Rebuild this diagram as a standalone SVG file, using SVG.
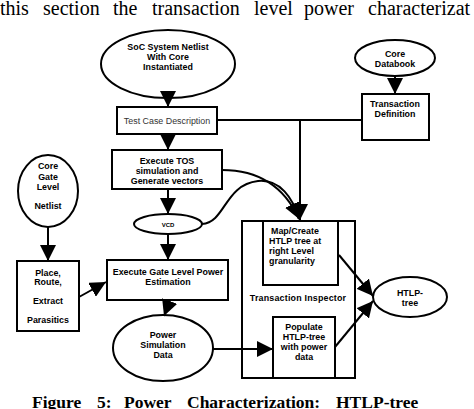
<svg xmlns="http://www.w3.org/2000/svg" width="474" height="409" viewBox="0 0 474 409">
<defs>
<marker id="ah" markerUnits="userSpaceOnUse" markerWidth="16" markerHeight="16" refX="16" refY="8" orient="auto">
<path d="M0,0 L16,8 L0,16 z" fill="#000"/>
</marker>
<style>
.n{fill:#fff;stroke:#000;stroke-width:2}
.t{font-family:"Liberation Sans",Arial,sans-serif;font-size:8.9px;font-weight:bold;text-anchor:middle;fill:#000}
.c{fill:none;stroke:#000;stroke-width:2}
.s{font-family:"Liberation Serif","Times New Roman",serif;fill:#000}
</style>
</defs>
<rect width="474" height="409" fill="#fff"/>
<text class="s" x="0" y="15" font-size="20"><tspan x="0">this</tspan><tspan x="43">section</tspan><tspan x="113">the</tspan><tspan x="152">transaction</tspan><tspan x="254">level</tspan><tspan x="304">power</tspan><tspan x="368">characterizat</tspan></text>

<g id="soc">
<ellipse class="n" cx="168" cy="64" rx="67" ry="34"/>
<text class="t" x="168" y="50">SoC System Netlist</text>
<text class="t" x="168" y="60">With Core</text>
<text class="t" x="168" y="70">Instantiated</text>
</g>
<g id="testcase">
<rect class="n" x="117" y="107" width="100" height="27"/>
<text class="t" x="167" y="124" style="font-weight:normal;fill:#333">Test Case Description</text>
</g>
<g id="tos">
<rect class="n" x="112" y="150" width="110" height="39"/>
<text class="t" x="167" y="164">Execute TOS</text>
<text class="t" x="167" y="174">simulation and</text>
<text class="t" x="167" y="184">Generate  vectors</text>
</g>
<g id="vcd">
<ellipse class="n" cx="168" cy="224" rx="34" ry="10"/>
<text class="t" x="168" y="226.5" style="font-size:6px">VCD</text>
</g>
<g id="gatepower">
<rect class="n" x="107" y="260" width="121" height="40"/>
<text class="t" x="168" y="275">Execute Gate Level Power</text>
<text class="t" x="168" y="285">Estimation</text>
</g>
<g id="powersim">
<ellipse class="n" cx="163" cy="348" rx="50" ry="33"/>
<text class="t" x="163" y="338">Power</text>
<text class="t" x="163" y="348">Simulation</text>
<text class="t" x="163" y="358">Data</text>
</g>
<g id="coregate">
<ellipse class="n" cx="48" cy="191" rx="30" ry="36"/>
<text class="t" x="48" y="169">Core</text>
<text class="t" x="48" y="180">Gate</text>
<text class="t" x="48" y="190">Level</text>
<text class="t" x="48" y="209">Netlist</text>
</g>
<g id="place">
<rect class="n" x="17" y="261" width="62" height="70"/>
<text class="t" x="48" y="276">Place,</text>
<text class="t" x="48" y="285">Route,</text>
<text class="t" x="48" y="304">Extract</text>
<text class="t" x="48" y="323">Parasitics</text>
</g>
<g id="databook">
<ellipse class="n" cx="395" cy="58" rx="40" ry="18"/>
<text class="t" x="395" y="57">Core</text>
<text class="t" x="395" y="67">Databook</text>
</g>
<g id="transdef">
<rect class="n" x="362" y="94" width="67" height="46"/>
<text class="t" x="395" y="107">Transaction</text>
<text class="t" x="395" y="117">Definition</text>
</g>
<g id="inspector">
<rect class="n" x="242" y="221" width="113" height="157"/>
<text class="t" x="298" y="301" style="letter-spacing:0.2px">Transaction  Inspector</text>
</g>
<g id="mapcreate">
<rect class="n" x="263" y="221" width="75" height="64"/>
<text class="t" x="271" y="234" style="text-anchor:start">Map/Create</text>
<text class="t" x="269" y="244" style="text-anchor:start">HTLP tree at</text>
<text class="t" x="269" y="254" style="text-anchor:start">right Level</text>
<text class="t" x="269" y="264" style="text-anchor:start">granularity</text>
</g>
<g id="populate">
<rect class="n" x="273" y="317" width="62" height="61"/>
<text class="t" x="304" y="330">Populate</text>
<text class="t" x="304" y="340">HTLP-tree</text>
<text class="t" x="304" y="350">with power</text>
<text class="t" x="304" y="360">data</text>
</g>
<g id="htlp">
<ellipse class="n" cx="410" cy="297" rx="37" ry="20"/>
<text class="t" x="410" y="296">HTLP-</text>
<text class="t" x="410" y="306">tree</text>
</g>

<g id="connectors">
<line class="c" x1="168" y1="98" x2="168" y2="107" marker-end="url(#ah)"/>
<line class="c" x1="168" y1="134" x2="168" y2="150" marker-end="url(#ah)"/>
<line class="c" x1="168" y1="189" x2="168" y2="214" marker-end="url(#ah)"/>
<line class="c" x1="168" y1="234" x2="168" y2="260" marker-end="url(#ah)"/>
<line class="c" x1="395" y1="76" x2="395" y2="94" marker-end="url(#ah)"/>
<line class="c" x1="48" y1="227" x2="48" y2="261" marker-end="url(#ah)"/>
<line class="c" x1="79" y1="297" x2="106" y2="282" marker-end="url(#ah)"/>
<line class="c" x1="170" y1="300" x2="164" y2="316" marker-end="url(#ah)"/>
<line class="c" x1="213" y1="349" x2="273" y2="349" marker-end="url(#ah)"/>
<polyline class="c" points="217,120 362,120"/>
<line class="c" x1="300" y1="120" x2="300" y2="220" marker-end="url(#ah)"/>
<path class="c" d="M222,170 C258,170 284,186 299,219" marker-end="url(#ah)"/>
<path class="c" d="M202,224 C226,222 224,185 258,181 C280,179 293,198 299,219"/>
<line class="c" x1="339" y1="255" x2="373" y2="296" marker-end="url(#ah)"/>
<line class="c" x1="335" y1="347" x2="373" y2="301" marker-end="url(#ah)"/>
</g>

<text class="s" y="408" font-size="17.5" font-weight="bold"><tspan x="32">Figure</tspan><tspan x="97">5:</tspan><tspan x="124">Power</tspan><tspan x="187">Characterization:</tspan><tspan x="336">HTLP-tree</tspan></text>
</svg>
